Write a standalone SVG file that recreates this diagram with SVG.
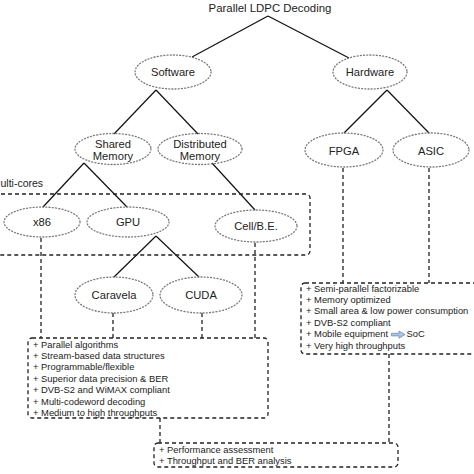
<svg xmlns="http://www.w3.org/2000/svg" width="474" height="474" viewBox="0 0 474 474">
<style>
.bg{fill:#fff}
.ell{fill:none;stroke:#7a7a7a;stroke-width:1.3;stroke-dasharray:1,2.2;stroke-linecap:round}
.lbl{font-family:"Liberation Sans",Arial,sans-serif;font-size:11.2px;fill:#222;text-anchor:middle}
.txt{font-family:"Liberation Sans",Arial,sans-serif;font-size:9.4px;fill:#222}
.box{fill:none;stroke:#222;stroke-width:1.3;stroke-dasharray:4,3}
.solid{stroke:#111;stroke-width:1.2;fill:none}
.dash{stroke:#222;stroke-width:1.3;stroke-dasharray:4,3;fill:none}
</style>
<rect class="bg" x="0" y="0" width="474" height="474"/>

<g id="connectors">
<line class="solid" x1="268" y1="16" x2="192" y2="57"/>
<line class="solid" x1="268" y1="16" x2="349" y2="58"/>
<line class="solid" x1="156" y1="90" x2="114" y2="134"/>
<line class="solid" x1="156" y1="90" x2="198" y2="134"/>
<line class="solid" x1="387" y1="90" x2="344" y2="133"/>
<line class="solid" x1="387" y1="90" x2="429" y2="133"/>
<line class="solid" x1="84" y1="163" x2="43" y2="207"/>
<line class="solid" x1="84" y1="163" x2="127" y2="207"/>
<line class="solid" x1="212" y1="163" x2="255" y2="210"/>
<line class="solid" x1="156" y1="236" x2="114" y2="277"/>
<line class="solid" x1="156" y1="236" x2="199" y2="277"/>
<line class="dash" x1="41" y1="238" x2="41" y2="338"/>
<line class="dash" x1="113" y1="313" x2="113" y2="338"/>
<line class="dash" x1="202" y1="313" x2="202" y2="338"/>
<line class="dash" x1="255" y1="243" x2="255" y2="338"/>
<line class="dash" x1="343" y1="168" x2="343" y2="283"/>
<line class="dash" x1="429" y1="168" x2="429" y2="283"/>
<line class="dash" x1="160" y1="418" x2="160" y2="443"/>
<line class="dash" x1="389" y1="354" x2="389" y2="443"/>
</g>

<g id="title">
<text class="lbl" x="270" y="11.5" style="font-size:11.4px">Parallel LDPC Decoding</text>
</g>

<g id="multicores">
<rect class="box" x="-10" y="194" width="320" height="61" rx="4"/>
<text class="txt" x="0.5" y="187" style="font-size:10.5px">ulti-cores</text>
</g>

<g id="software">
<ellipse class="ell" cx="173" cy="72" rx="38" ry="17"/>
<text class="lbl" x="173" y="76">Software</text>
</g>
<g id="hardware">
<ellipse class="ell" cx="370" cy="72" rx="37" ry="17"/>
<text class="lbl" x="370" y="76">Hardware</text>
</g>
<g id="shared">
<ellipse class="ell" cx="113" cy="149" rx="38" ry="15.5"/>
<text class="lbl" x="113" y="148">Shared</text>
<text class="lbl" x="113" y="160">Memory</text>
</g>
<g id="distributed">
<ellipse class="ell" cx="200" cy="149" rx="42" ry="15.5"/>
<text class="lbl" x="200" y="148">Distributed</text>
<text class="lbl" x="200" y="160">Memory</text>
</g>
<g id="fpga">
<ellipse class="ell" cx="344" cy="150" rx="39" ry="17"/>
<text class="lbl" x="344" y="155">FPGA</text>
</g>
<g id="asic">
<ellipse class="ell" cx="431" cy="150" rx="38" ry="17"/>
<text class="lbl" x="431" y="155">ASIC</text>
</g>
<g id="x86">
<ellipse class="ell" cx="42" cy="222" rx="38" ry="15"/>
<text class="lbl" x="42" y="226">x86</text>
</g>
<g id="gpu">
<ellipse class="ell" cx="128" cy="222" rx="41" ry="15"/>
<text class="lbl" x="128" y="226">GPU</text>
</g>
<g id="cell">
<ellipse class="ell" cx="256" cy="226" rx="41" ry="16"/>
<text class="lbl" x="256" y="230">Cell/B.E.</text>
</g>
<g id="caravela">
<ellipse class="ell" cx="114" cy="295" rx="39" ry="18"/>
<text class="lbl" x="114" y="299">Caravela</text>
</g>
<g id="cuda">
<ellipse class="ell" cx="201" cy="295" rx="41" ry="18"/>
<text class="lbl" x="201" y="299">CUDA</text>
</g>

<g id="software-features">
<rect class="box" x="28" y="338" width="240" height="80" rx="4"/>
<text class="txt" x="33" y="347.5">+ Parallel algorithms</text>
<text class="txt" x="33" y="358.9">+ Stream-based data structures</text>
<text class="txt" x="33" y="370.3">+ Programmable/flexible</text>
<text class="txt" x="33" y="381.7">+ Superior data precision &amp; BER</text>
<text class="txt" x="33" y="393.1">+ DVB-S2 and WiMAX compliant</text>
<text class="txt" x="33" y="404.5">+ Multi-codeword decoding</text>
<text class="txt" x="33" y="415.9">+ Medium to high throughputs</text>
</g>

<g id="hardware-features">
<rect class="box" x="301" y="283" width="190" height="71" rx="4"/>
<text class="txt" x="306" y="291.5">+ Semi-parallel factorizable</text>
<text class="txt" x="306" y="302.9">+ Memory optimized</text>
<text class="txt" x="306" y="314.3">+ Small area &amp; low power consumption</text>
<text class="txt" x="306" y="325.7">+ DVB-S2 compliant</text>
<text class="txt" x="306" y="337.1">+ Mobile equipment</text>
<path d="M391.5,333.3 H399 V331 L405,334.6 L399,338.2 V335.9 H391.5 Z" fill="#a8c6e6" stroke="#6d8fb5" stroke-width="0.8"/>
<text class="txt" x="406.5" y="337.1">SoC</text>
<text class="txt" x="306" y="348.5">+ Very high throughputs</text>
</g>

<g id="assessment">
<rect class="box" x="154" y="443" width="244" height="24" rx="4"/>
<text class="txt" x="159" y="452.5">+ Performance assessment</text>
<text class="txt" x="159" y="464">+ Throughput and BER analysis</text>
</g>
</svg>
